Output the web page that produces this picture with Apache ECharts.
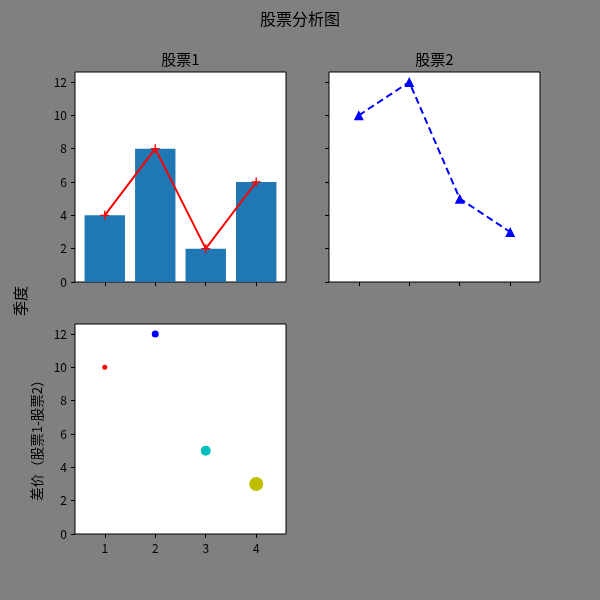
<!DOCTYPE html>
<html><head><meta charset="utf-8">
<script src="https://cdn.jsdelivr.net/npm/echarts@6/dist/echarts.min.js"></script>
<style>html,body{margin:0;padding:0;background:#808080}#c{width:600px;height:600px}</style>
</head><body><div id="c"></div>
<script>
const quarters = [1, 2, 3, 4];
const stock1 = [4, 8, 2, 6];
const stock2 = [10, 12, 5, 3];
const scatterColors = ['#ff0000', '#0000ff', '#00bfbf', '#bfbf00'];
const scatterSizes = [5, 7, 10, 14];
const yTicks = [0, 2, 4, 6, 8, 10, 12];
const xTicks = [1, 2, 3, 4];
const figTitle = '股票分析图';
const titles = ['股票1', '股票2'];
const supYLabel = '季度';
const scatterYLabel = '差价（股票1-股票2）';

const XMIN = 0.41, XMAX = 4.59, YMIN = 0, YMAX = 12.6;
const FONT = '"Noto Sans CJK SC", "Noto Sans", sans-serif';
const grids = [
  {left: 75, top: 72, width: 211, height: 210},
  {left: 329, top: 72, width: 211, height: 210},
  {left: 75, top: 324, width: 211, height: 210}
];
const barWidthPx = 0.8 / (XMAX - XMIN) * grids[0].width;

function xAxis(i, showLabel) {
  return {
    type: 'value', gridIndex: i, min: XMIN, max: XMAX,
    splitLine: {show: false}, axisLine: {show: false},
    axisTick: {show: true, length: 4, customValues: xTicks, lineStyle: {color: '#000'}},
    axisLabel: {show: showLabel, customValues: xTicks, color: '#000', fontSize: 12, fontFamily: FONT, margin: 8}
  };
}
function yAxis(i, showLabel) {
  return {
    type: 'value', gridIndex: i, min: YMIN, max: YMAX,
    splitLine: {show: false}, axisLine: {show: false},
    axisTick: {show: true, length: 4, customValues: yTicks, lineStyle: {color: '#000'}},
    axisLabel: {show: showLabel, customValues: yTicks, color: '#000', fontSize: 12, fontFamily: FONT, margin: 8}
  };
}

const plusPath = 'path://M4.25,0h1.5v4.25h4.25v1.5h-4.25v4.25h-1.5v-4.25h-4.25v-1.5h4.25z';

const chart = echarts.init(document.getElementById('c'), null, {renderer: 'canvas'});
chart.setOption({
  backgroundColor: '#808080',
  animation: false,
  grid: grids.map(g => Object.assign({show: true, backgroundColor: '#fff', borderColor: '#000', borderWidth: 1}, g)),
  xAxis: [xAxis(0, false), xAxis(1, false), xAxis(2, true)],
  yAxis: [yAxis(0, true), yAxis(1, false), yAxis(2, true)],
  series: [
    {type: 'bar', xAxisIndex: 0, yAxisIndex: 0, barWidth: barWidthPx,
     itemStyle: {color: '#1f77b4'}, data: quarters.map((q, i) => [q, stock1[i]])},
    {type: 'line', xAxisIndex: 0, yAxisIndex: 0, symbol: plusPath, symbolSize: 9,
     itemStyle: {color: '#ff0000'}, lineStyle: {color: '#ff0000', width: 2},
     data: quarters.map((q, i) => [q, stock1[i]]), z: 3},
    {type: 'line', xAxisIndex: 1, yAxisIndex: 1, symbol: 'triangle', symbolSize: 10,
     itemStyle: {color: '#0000ff'}, lineStyle: {color: '#0000ff', width: 2, type: [7, 4]},
     data: quarters.map((q, i) => [q, stock2[i]])},
    {type: 'scatter', xAxisIndex: 2, yAxisIndex: 2,
     data: quarters.map((q, i) => ({value: [q, stock2[i]], symbolSize: scatterSizes[i], itemStyle: {color: scatterColors[i], opacity: 1}}))}
  ],
  graphic: [
    {type: 'text', left: 'center', top: 11, style: {text: figTitle, fontSize: 16, fontFamily: FONT, fill: '#000'}},
    {type: 'text', x: 180.5, y: 59, style: {text: titles[0], fontSize: 15, fontFamily: FONT, fill: '#000', align: 'center', verticalAlign: 'middle'}},
    {type: 'text', x: 434.5, y: 59, style: {text: titles[1], fontSize: 15, fontFamily: FONT, fill: '#000', align: 'center', verticalAlign: 'middle'}},
    {type: 'text', x: 20, y: 301, rotation: Math.PI / 2, style: {text: supYLabel, fontSize: 15, fontFamily: FONT, fill: '#000', align: 'center', verticalAlign: 'middle'}},
    {type: 'text', x: 37, y: 437, rotation: Math.PI / 2, style: {text: scatterYLabel, fontSize: 13.5, fontFamily: FONT, fill: '#000', align: 'center', verticalAlign: 'middle'}}
  ]
});
</script></body></html>
